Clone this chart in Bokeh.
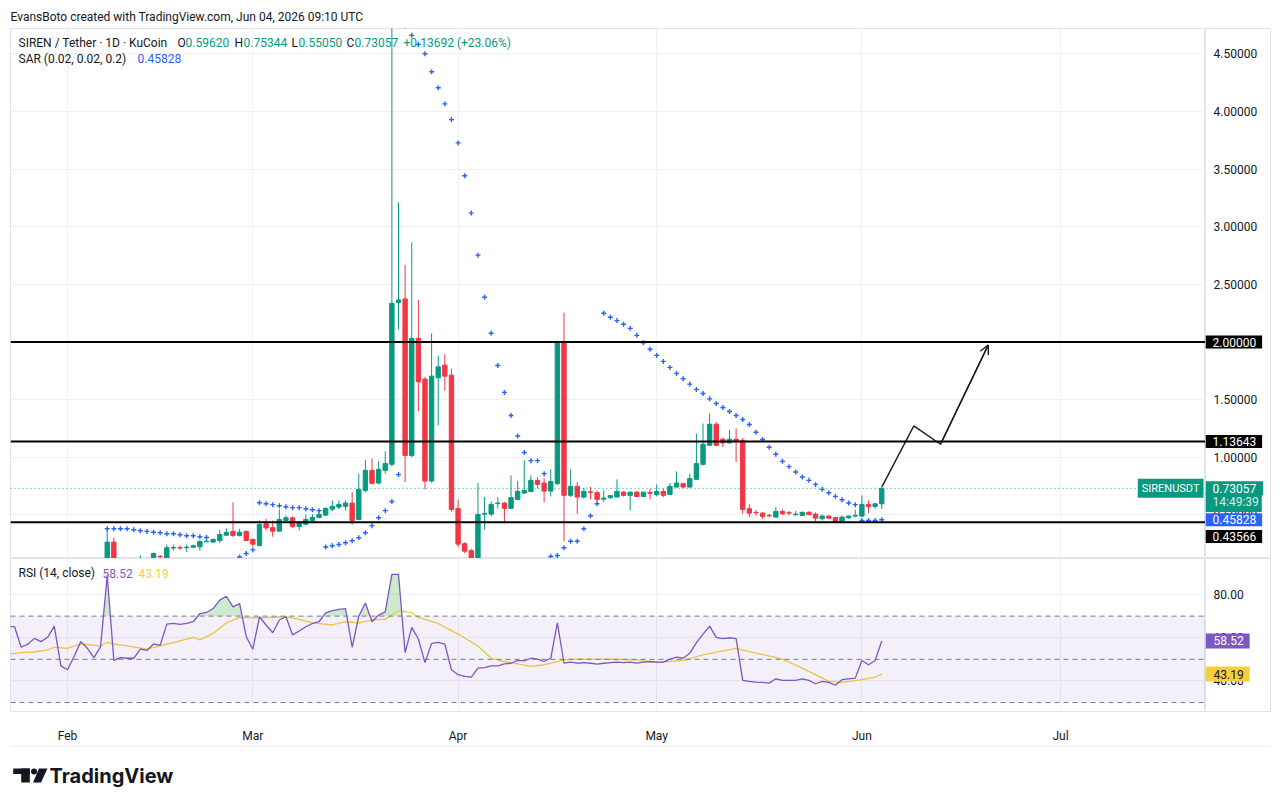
import numpy as np
import pandas as pd
from bokeh.plotting import figure
from bokeh.layouts import column, row
from bokeh.models import (Range1d, Span, Label, FixedTicker, MonthsTicker, Title,
                          DatetimeTickFormatter, BoxAnnotation, Arrow, OpenHead, ColumnDataSource)
from bokeh.core.properties import value
from bokeh.embed import file_html
from bokeh.resources import INLINE

# ---------------- DATA ----------------
candle_dates = (["2026-02-07", "2026-02-08", "2026-02-12"]
                + [d.strftime("%Y-%m-%d") for d in pd.date_range("2026-02-14", "2026-06-04")])

candle_open = [
    0.09, 0.264, 0.10,
    0.10, 0.141, 0.11, 0.213, 0.217, 0.215, 0.220, 0.224, 0.267, 0.264, 0.278, 0.324, 0.357, 0.322, 0.357,
    0.287, 0.235, 0.423, 0.389, 0.359, 0.452, 0.475, 0.400, 0.420, 0.452, 0.478, 0.498, 0.550, 0.568, 0.574,
    0.603, 0.461, 0.713, 0.887, 0.777, 0.887, 0.939, 2.342, 2.374, 1.015, 2.032, 1.678, 0.794, 1.690, 1.800, 1.713,
    0.557, 0.250, 0.190, 0.100, 0.507, 0.507, 0.598, 0.603, 0.557, 0.635, 0.690, 0.704, 0.800, 0.777, 0.707,
    0.771, 1.994, 0.670, 0.748, 0.655, 0.700, 0.693, 0.637, 0.650, 0.655, 0.698, 0.670, 0.698, 0.660, 0.696,
    0.675, 0.704, 0.678, 0.742, 0.771, 0.742, 0.809, 0.939, 1.104, 1.287, 1.157, 1.125, 1.157, 1.148, 0.554,
    0.522, 0.516, 0.496, 0.481, 0.530, 0.519, 0.501, 0.496, 0.522, 0.507, 0.467, 0.490, 0.478, 0.443, 0.475, 0.490,
    0.490, 0.591, 0.574, 0.5962]
candle_high = [
    0.387, 0.304, 0.148,
    0.174, 0.148, 0.243, 0.243, 0.235, 0.243, 0.243, 0.278, 0.307, 0.296, 0.371, 0.385, 0.609, 0.380, 0.365,
    0.298, 0.452, 0.467, 0.452, 0.548, 0.496, 0.487, 0.443, 0.504, 0.507, 0.541, 0.565, 0.626, 0.626, 0.626,
    0.698, 0.858, 0.980, 0.989, 0.965, 1.052, 4.900, 3.211, 2.670, 2.864, 2.365, 1.700, 2.076, 1.880, 1.896, 1.770,
    0.635, 0.264, 0.206, 0.776, 0.655, 0.617, 0.655, 0.612, 0.843, 0.793, 0.974, 0.843, 0.826, 0.815, 0.896,
    2.000, 2.255, 0.896, 0.785, 0.733, 0.742, 0.713, 0.713, 0.675, 0.809, 0.707, 0.698, 0.704, 0.698, 0.728,
    0.765, 0.728, 0.777, 0.878, 0.780, 0.858, 1.206, 1.293, 1.380, 1.307, 1.171, 1.235, 1.250, 1.168, 0.591,
    0.545, 0.524, 0.510, 0.568, 0.548, 0.536, 0.533, 0.530, 0.533, 0.522, 0.504, 0.496, 0.481, 0.496, 0.496, 0.545,
    0.670, 0.626, 0.603, 0.75344]
candle_low = [
    0.08, 0.08, 0.08,
    0.09, 0.125, 0.10, 0.191, 0.197, 0.176, 0.213, 0.190, 0.264, 0.261, 0.255, 0.322, 0.307, 0.313, 0.272,
    0.229, 0.226, 0.365, 0.310, 0.357, 0.443, 0.385, 0.365, 0.409, 0.443, 0.470, 0.490, 0.533, 0.550, 0.539,
    0.415, 0.452, 0.698, 0.765, 0.765, 0.858, 0.922, 2.110, 0.785, 1.000, 1.400, 0.719, 0.780, 1.278, 1.577, 0.530,
    0.220, 0.168, 0.08, 0.09, 0.374, 0.487, 0.556, 0.426, 0.550, 0.626, 0.680, 0.700, 0.728, 0.610, 0.660,
    0.760, 0.272, 0.655, 0.510, 0.641, 0.635, 0.606, 0.611, 0.640, 0.655, 0.660, 0.539, 0.655, 0.655, 0.635,
    0.661, 0.655, 0.675, 0.739, 0.730, 0.736, 0.803, 0.930, 1.104, 1.098, 1.090, 1.119, 0.959, 0.510, 0.481,
    0.496, 0.467, 0.478, 0.481, 0.498, 0.496, 0.496, 0.490, 0.496, 0.443, 0.452, 0.467, 0.437, 0.437, 0.467, 0.481,
    0.481, 0.516, 0.554, 0.5505]
candle_close = [
    0.264, 0.10, 0.11,
    0.165, 0.137, 0.215, 0.217, 0.213, 0.220, 0.232, 0.270, 0.272, 0.287, 0.330, 0.348, 0.322, 0.350, 0.278,
    0.246, 0.417, 0.387, 0.359, 0.461, 0.475, 0.400, 0.429, 0.461, 0.478, 0.504, 0.557, 0.574, 0.591, 0.603,
    0.452, 0.722, 0.887, 0.774, 0.896, 0.945, 2.336, 2.365, 1.015, 2.032, 1.655, 0.794, 1.704, 1.785, 1.704, 0.548,
    0.246, 0.185, 0.10, 0.504, 0.512, 0.591, 0.603, 0.557, 0.650, 0.704, 0.713, 0.800, 0.765, 0.707, 0.790,
    1.989, 0.670, 0.748, 0.655, 0.704, 0.696, 0.635, 0.646, 0.667, 0.704, 0.670, 0.698, 0.660, 0.698, 0.687,
    0.704, 0.670, 0.748, 0.777, 0.742, 0.815, 0.945, 1.113, 1.287, 1.104, 1.125, 1.157, 1.142, 0.548, 0.516,
    0.519, 0.487, 0.493, 0.530, 0.510, 0.516, 0.507, 0.522, 0.502, 0.472, 0.490, 0.472, 0.443, 0.481, 0.490, 0.496,
    0.591, 0.571, 0.596, 0.73057]

sar_dates = ([d.strftime("%Y-%m-%d") for d in pd.date_range("2026-02-07", "2026-02-22")]
             + [d.strftime("%Y-%m-%d") for d in pd.date_range("2026-02-27", "2026-06-04")])
sar_values = [
    0.380, 0.380, 0.380, 0.380, 0.371, 0.363, 0.357, 0.350, 0.345, 0.337, 0.337, 0.328, 0.319, 0.319, 0.310, 0.304,
    0.135, 0.165, 0.197,
    0.606, 0.597, 0.589, 0.580, 0.571, 0.563, 0.563, 0.554, 0.545, 0.537,
    0.222, 0.232, 0.243, 0.258, 0.276, 0.302, 0.345, 0.407, 0.476, 0.537, 0.616, 0.850,
    4.737, 4.661, 4.583, 4.502, 4.345, 4.206, 4.067, 3.930,
    3.728, 3.443, 3.119, 2.754, 2.389, 2.076, 1.797, 1.563, 1.363, 1.185, 1.041, 0.971, 0.971, 0.858,
    0.139, 0.148, 0.215, 0.272, 0.272, 0.380, 0.493, 0.597,
    2.250, 2.215, 2.186, 2.154, 2.119, 2.058, 1.994, 1.937,
    1.884, 1.832, 1.780, 1.728, 1.681, 1.635, 1.589, 1.554, 1.507, 1.467, 1.432, 1.397, 1.363, 1.328, 1.284,
    1.217, 1.154, 1.087, 1.026, 0.965, 0.919, 0.872, 0.829, 0.800, 0.765, 0.722, 0.693, 0.661, 0.632, 0.603, 0.589,
    0.452, 0.452, 0.452, 0.45828]

rsi_start = "2026-01-23"
rsi_values = [
    65.1, 65.1, 55.6, 57.0, 59.7, 58.2, 60.2, 65.4, 47.0,
    45.2, 51.3, 58.2, 55.1, 50.8, 55.9, 88.9, 49.5, 50.8, 50.5, 50.5, 54.7, 54.1, 57.1, 56.5, 66.3, 66.6, 66.2,
    66.6, 67.4, 71.2, 71.7, 73.5, 77.4, 79.2, 74.3, 75.8, 60.5,
    54.7, 69.7, 65.9, 62.3, 68.2, 69.7, 61.3, 63.1, 65.1, 66.6, 67.4, 71.5, 72.5, 73.1, 73.5, 55.6, 70.0, 76.1,
    67.4, 70.5, 72.0, 89.3, 89.3, 53.1, 64.8, 59.4, 48.5, 57.4, 57.9, 57.0, 45.2,
    42.9, 42.1, 41.8, 45.9, 46.2, 47.0, 47.0, 47.9, 48.2, 49.5, 49.3, 50.5, 50.1, 49.0, 50.5, 66.9, 48.2, 48.7,
    48.2, 48.5, 48.2, 47.8, 48.2, 48.5, 48.7, 48.5, 48.7, 48.2, 48.7, 49.0,
    48.7, 48.7, 50.1, 51.0, 50.5, 52.8, 57.7, 61.7, 65.4, 60.2, 59.6, 60.0, 59.6, 40.3, 39.8, 39.5, 39.3, 39.0,
    41.0, 40.3, 40.3, 40.3, 41.0, 40.3, 38.7, 39.8, 39.3, 38.0, 40.6, 41.0, 41.3,
    49.5, 47.5, 49.5, 58.52]

rsi_ma_dates = ["2026-01-23", "2026-01-25", "2026-01-27", "2026-01-29", "2026-01-30", "2026-02-01", "2026-02-03",
                "2026-02-06", "2026-02-07", "2026-02-08", "2026-02-10", "2026-02-13", "2026-02-15", "2026-02-17",
                "2026-02-20", "2026-02-21", "2026-02-23", "2026-02-25", "2026-02-27", "2026-03-02", "2026-03-06",
                "2026-03-08", "2026-03-10", "2026-03-13", "2026-03-15", "2026-03-17", "2026-03-19", "2026-03-21",
                "2026-03-23", "2026-03-25", "2026-03-26", "2026-03-29", "2026-04-01", "2026-04-04", "2026-04-06",
                "2026-04-08", "2026-04-10", "2026-04-12", "2026-04-14", "2026-04-15", "2026-04-17", "2026-04-19",
                "2026-04-22", "2026-04-28", "2026-05-01", "2026-05-05", "2026-05-08", "2026-05-10", "2026-05-13",
                "2026-05-15", "2026-05-20", "2026-05-23", "2026-05-27", "2026-05-29", "2026-06-01", "2026-06-03",
                "2026-06-04"]
rsi_ma_values = [52.4, 53.1, 53.4, 54.4, 55.6, 55.1, 57.1, 56.2, 57.9, 57.1, 56.2, 54.7, 56.2, 57.7, 60.2, 59.0,
                 62.0, 66.9, 69.4, 69.2, 69.7, 68.5, 66.9, 65.9, 67.4, 66.9, 68.2, 68.6, 72.5, 71.5, 69.4, 66.6,
                 61.7, 56.2, 50.5, 49.0, 47.9, 46.7, 47.5, 48.2, 49.8, 50.1, 50.1, 49.8, 48.5, 49.5, 52.1, 53.3,
                 55.1, 53.6, 50.1, 45.9, 39.8, 39.3, 40.6, 41.8, 43.19]

levels = [2.0, 1.13643, 0.43566]
last_close = 0.73057
sar_last = 0.45828
rsi_last = 58.52
rsi_ma_last = 43.19
price_ticks = [0.5, 1.0, 1.5, 2.0, 2.5, 3.0, 3.5, 4.0, 4.5]
rsi_ticks = [40, 60, 80]
rsi_bands = [70, 50, 30]

arrow_dates = ["2026-06-04 01:30", "2026-06-08 20:00", "2026-06-12 21:00", "2026-06-20 02:00"]
arrow_prices = [0.748, 1.272, 1.113, 1.974]

# ---------------- STYLE / LAYOUT HELPERS ----------------
GREEN = "#089981"
RED = "#f23645"
BLUE = "#2962ff"
PURPLE = "#7e57c2"
YELLOW = "#f7cf3a"
INK = "#131722"
GRID = "#eef0f5"
EDGE = "#e0e3eb"
FONT = "Roboto"

T0_MS = pd.Timestamp("2026-02-01").value // 10**6
DAY_MS = 86400000
PX_DAY = 6.62


def sx(px):
    return T0_MS + (px - 67.0) / PX_DAY * DAY_MS


def sy_price(py):
    return 1.0 + (456.8 - py) / 115.25


def sy_rsi(py):
    return 70.0 + (616.0 - py) / 2.175


def to_ms(strs):
    return np.array([pd.Timestamp(s).value // 10**6 for s in strs], dtype=float)


def lab(fig, x, y, text, color, size="12px", align="left", bg=None, pad=None, x_offset=0, alpha=1.0):
    kw = dict(x=x, y=y, text=text, text_color=color, text_font_size=size, text_align=align,
              text_baseline="middle", text_font=FONT, x_offset=x_offset, text_alpha=alpha)
    if bg is not None:
        kw["background_fill_color"] = bg
        kw["padding"] = pad
    fig.add_layout(Label(**kw))


def base_fig(width, height, x_range, y_range, top, bottom, left, right, x_type="linear", x_axis=None):
    f = figure(width=width, height=height, x_axis_type=x_type, x_axis_location=x_axis, y_axis_location=None,
               x_range=x_range, y_range=y_range, min_border_left=left, min_border_right=right,
               min_border_top=top, min_border_bottom=bottom, toolbar_location=None, output_backend="svg")
    f.background_fill_color = "white"
    f.border_fill_color = "white"
    f.outline_line_color = EDGE
    return f


xr = Range1d(start=sx(10), end=sx(1205))
pyr = Range1d(sy_price(558), sy_price(28))
ryr = Range1d(sy_rsi(712), sy_rsi(558))
months = MonthsTicker(months=list(range(1, 13)))

# ---------------- PRICE PANE ----------------
p = base_fig(1205, 558, xr, pyr, 28, 0, 10, 0, x_type="datetime")
p.add_layout(Title(text="EvansBoto created with TradingView.com, Jun 04, 2026 09:10 UTC", align="left",
                   text_font=FONT, text_font_size="12px", text_font_style="normal", text_color=INK,
                   standoff=10), "above")
p.ygrid.ticker = FixedTicker(ticks=price_ticks)
p.ygrid.grid_line_color = GRID
p.xgrid.ticker = months
p.xgrid.grid_line_color = GRID

o = np.array(candle_open)
h = np.array(candle_high)
l = np.array(candle_low)
c = np.array(candle_close)
src = ColumnDataSource(dict(x=to_ms(candle_dates), o=o, h=h, l=l, c=c,
                            top=np.maximum(o, c), bottom=np.minimum(o, c),
                            color=[GREEN if ci >= oi else RED for oi, ci in zip(o, c)]))
p.segment(x0="x", y0="h", x1="x", y1="l", line_color="color", line_width=1, source=src)
p.vbar(x="x", width=0.66 * DAY_MS, top="top", bottom="bottom", fill_color="color", line_color="color",
       line_width=1, source=src)

p.scatter(x=to_ms(sar_dates), y=sar_values, marker="cross", size=5, line_width=1.4, color=BLUE)

for lv in levels:
    p.add_layout(Span(location=lv, dimension="width", line_color="black", line_width=2))
p.add_layout(Span(location=last_close, dimension="width", line_color=GREEN, line_width=1, line_dash="1 3"))

ax = to_ms(arrow_dates)
p.line(x=ax, y=arrow_prices, line_color=INK, line_width=1.4)
p.add_layout(Arrow(end=OpenHead(size=9, line_color=INK, line_width=1.4), x_start=ax[-2], y_start=arrow_prices[-2],
                   x_end=ax[-1], y_end=arrow_prices[-1], line_color=INK, line_width=1.4))

yl1 = sy_price(42)
lab(p, sx(18), yl1, "SIREN / Tether · 1D · KuCoin", INK)
for letter, val, lx, vx in [("O", "0.59620", 177, 185), ("H", "0.75344", 234, 243),
                            ("L", "0.55050", 291, 298), ("C", "0.73057", 346, 354)]:
    lab(p, sx(lx), yl1, letter, INK)
    lab(p, sx(vx), yl1, val, GREEN)
lab(p, sx(403), yl1, "+0.13692 (+23.06%)", GREEN)
yl2 = sy_price(58)
lab(p, sx(18), yl2, "SAR (0.02, 0.02, 0.2)", INK)
lab(p, sx(137), yl2, "0.45828", BLUE)
lab(p, sx(1205), last_close, "SIRENUSDT", "white", size="11px", align="right", bg=GREEN,
    pad=dict(left=4, right=4, top=3, bottom=3), x_offset=-2)

# price scale column (right)
pa = base_fig(75, 558, Range1d(0, 65), pyr, 28, 0, 0, 10)
pa.grid.visible = False
pa.text(x=[8] * len(price_ticks), y=price_ticks, text=[f"{t:.5f}" for t in price_ticks],
        text_font=value(FONT), text_font_size="12px", text_color=INK, text_baseline="middle")
PAD = dict(left=7, right=6, top=2, bottom=2)
lab(pa, 0, 2.0, "2.00000", "white", bg="black", pad=PAD)
lab(pa, 0, 1.13643, "1.13643", "white", bg="black", pad=PAD)
lab(pa, 0, sy_price(502), "14:49:39", "white", bg=GREEN, pad=dict(left=7, right=3, top=2, bottom=3), alpha=0.85)
lab(pa, 0, last_close, "0.73057", "white", bg=GREEN, pad=dict(left=7, right=7, top=3, bottom=2))
lab(pa, 0, sar_last, "0.45828", "white", bg=BLUE, pad=PAD)
lab(pa, 0, sy_price(536), "0.43566", "white", bg="black", pad=PAD)

# ---------------- RSI PANE ----------------
q = base_fig(1205, 187, xr, ryr, 0, 33, 10, 0, x_type="datetime", x_axis="below")
q.xaxis.ticker = months
q.xaxis.formatter = DatetimeTickFormatter(months="%b", days="%b", years="%b")
q.xaxis.axis_line_color = None
q.xaxis.major_tick_line_color = None
q.xaxis.minor_tick_line_color = None
q.xaxis.major_label_standoff = 11
q.xaxis.major_label_text_font = FONT
q.xaxis.major_label_text_font_size = "12px"
q.xaxis.major_label_text_color = INK
q.xgrid.grid_line_color = GRID
q.ygrid.ticker = FixedTicker(ticks=rsi_ticks)
q.ygrid.grid_line_color = GRID

q.add_layout(BoxAnnotation(bottom=rsi_bands[2], top=rsi_bands[0], fill_color=PURPLE, fill_alpha=0.09,
                           line_color=None))
for b in rsi_bands:
    q.add_layout(Span(location=b, dimension="width", line_color="#787b86", line_width=1, line_dash="5 4"))

rsi_x = to_ms(pd.date_range(rsi_start, periods=len(rsi_values), freq="D").strftime("%Y-%m-%d"))
rv = np.array(rsi_values)
LVL = rsi_bands[0]
polys_x, polys_y, cx, cy = [], [], [], []
for i in range(len(rv)):
    if i > 0:
        a, bb = rv[i - 1], rv[i]
        if a <= LVL < bb or a > LVL >= bb:
            f = (LVL - a) / (bb - a)
            xc = rsi_x[i - 1] + f * (rsi_x[i] - rsi_x[i - 1])
            if bb > LVL:
                cx, cy = [xc], [LVL]
            else:
                cx.append(xc)
                cy.append(LVL)
                polys_x.append(cx)
                polys_y.append(cy)
                cx, cy = [], []
    if rv[i] > LVL:
        if not cx:
            cx, cy = [rsi_x[i]], [LVL]
        cx.append(rsi_x[i])
        cy.append(rv[i])
q.patches(xs=polys_x, ys=polys_y, fill_color="#4caf50", fill_alpha=0.28, line_color=None)

q.line(x=to_ms(rsi_ma_dates), y=rsi_ma_values, line_color=YELLOW, line_width=1.3)
q.line(x=rsi_x, y=rsi_values, line_color=PURPLE, line_width=1.3)

yr = sy_rsi(573)
lab(q, sx(18), yr, "RSI (14, close)", INK)
lab(q, sx(102), yr, "58.52", PURPLE)
lab(q, sx(138), yr, "43.19", YELLOW)

# RSI scale column (right)
qa = base_fig(75, 187, Range1d(0, 65), ryr, 0, 33, 0, 10)
qa.grid.visible = False
qa.text(x=[8] * len(rsi_ticks), y=rsi_ticks, text=[f"{t:.2f}" for t in rsi_ticks],
        text_font=value(FONT), text_font_size="12px", text_color=INK, text_baseline="middle")
lab(qa, 0, rsi_last, "58.52", "white", bg=PURPLE, pad=dict(left=8, right=6, top=3, bottom=3))
lab(qa, 0, rsi_ma_last, "43.19", INK, bg=YELLOW, pad=dict(left=8, right=6, top=3, bottom=3))

# ---------------- FOOTER (brand) ----------------
ft = base_fig(1280, 60, Range1d(0, 1280), Range1d(60, 0), 0, 0, 0, 0)
ft.grid.visible = False
ft.outline_line_color = None
ft.line(x=[10, 1270], y=[0.5, 0.5], line_color=EDGE, line_width=1)
ft.quad(left=[12.7, 20.7], right=[29.3, 29.3], top=[23, 23], bottom=[28.5, 37], fill_color=INK, line_color=None)
ft.scatter(x=[33.5], y=[26], size=6, marker="circle", fill_color=INK, line_color=None)
ft.patch(x=[38.5, 47, 40.5, 32.5], y=[23, 23, 37, 37], fill_color=INK, line_color=None)
ft.text(x=[49], y=[30.5], text=["TradingView"], text_font=value("Inter"), text_font_style="bold",
        text_font_size="20px", text_color=INK, text_baseline="middle")

layout = column(row(p, pa, spacing=0), row(q, qa, spacing=0), ft, spacing=0)
open("out.html", "w").write(file_html(layout, INLINE))
